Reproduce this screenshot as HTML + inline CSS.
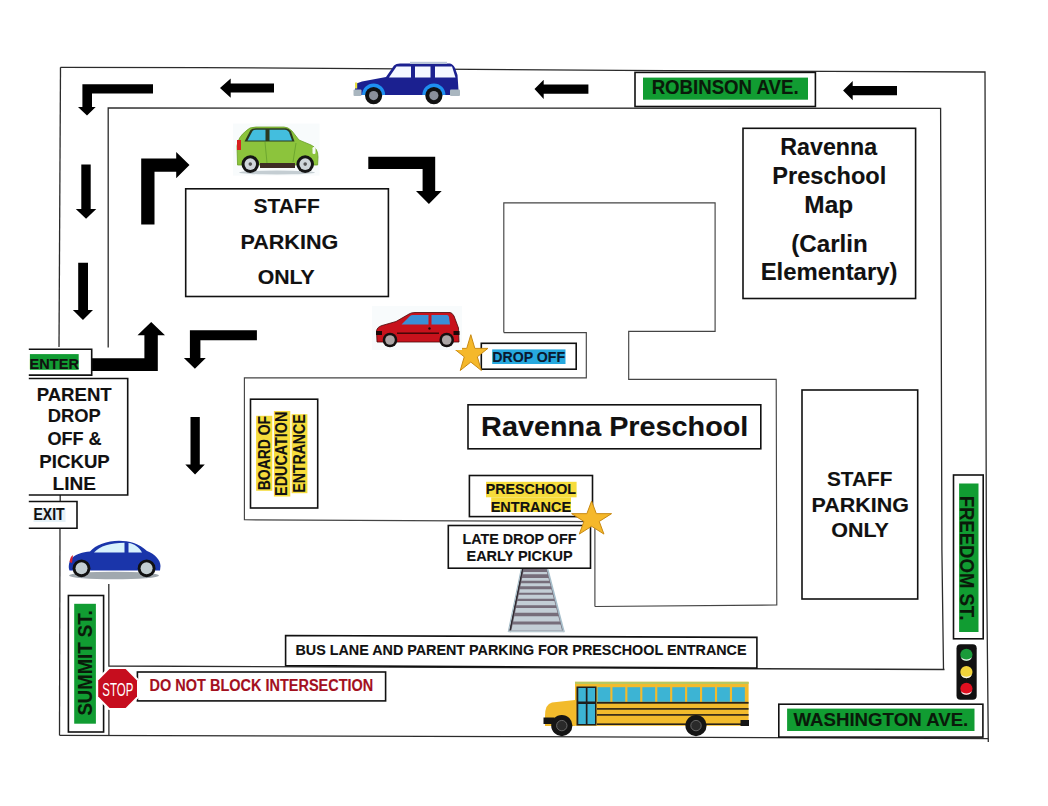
<!DOCTYPE html>
<html><head><meta charset="utf-8"><title>Ravenna Preschool Map</title>
<style>
html,body{margin:0;padding:0;background:#fff;width:1048px;height:806px;overflow:hidden}
svg{display:block}
text{font-family:"Liberation Sans",sans-serif;font-weight:700}
</style></head><body>
<svg width="1048" height="806" viewBox="0 0 1048 806">
<rect width="1048" height="806" fill="#fff"/>
<polyline points="60.5,67.3 200,67.6 620,70.4 830,71.4 985,72 986.4,550 988.3,742" fill="none" stroke="#2b2b2b" stroke-width="1.3"/>
<polyline points="59.5,735.3 535,736.6 988.3,738.6" fill="none" stroke="#2b2b2b" stroke-width="1.3"/>
<polyline points="60.5,67.3 59,347" fill="none" stroke="#2b2b2b" stroke-width="1.3"/>
<polyline points="60.2,495 60.2,501.5" fill="none" stroke="#2b2b2b" stroke-width="1.3"/>
<polyline points="60,528.3 59.5,735.3" fill="none" stroke="#2b2b2b" stroke-width="1.3"/>
<polyline points="108.2,347.6 108.2,108 940.6,108.3 941.9,550 943.5,669.5" fill="none" stroke="#2b2b2b" stroke-width="1.3"/>
<polyline points="108.8,584 108.9,666 944.5,669.5" fill="none" stroke="#2b2b2b" stroke-width="1.3"/>
<polyline points="108.9,708 108.9,735.5" fill="none" stroke="#2b2b2b" stroke-width="1.3"/>
<polygon points="153.00,84.30 153.00,93.50 92.00,93.50 92.00,107.00 95.70,107.00 87.00,115.60 78.00,107.00 82.40,107.00 82.40,84.30" fill="#000" stroke="none" stroke-width="0"/>
<polygon points="220.00,88.10 230.70,78.50 230.70,83.60 274.00,83.60 274.00,92.40 230.70,92.40 230.70,97.70" fill="#000" stroke="none" stroke-width="0"/>
<polygon points="534.50,88.90 543.70,79.80 543.70,84.50 588.40,84.50 588.40,93.70 543.70,93.70 543.70,98.90" fill="#000" stroke="none" stroke-width="0"/>
<polygon points="843.10,90.60 852.70,81.10 852.70,86.00 897.00,86.00 897.00,95.20 852.70,95.20 852.70,100.20" fill="#000" stroke="none" stroke-width="0"/>
<polygon points="81.30,164.50 90.70,164.50 90.70,209.00 96.30,209.00 86.05,218.80 75.80,209.00 81.30,209.00" fill="#000" stroke="none" stroke-width="0"/>
<polygon points="78.20,262.70 88.00,262.70 88.00,310.00 93.00,310.00 82.95,320.00 72.90,310.00 78.20,310.00" fill="#000" stroke="none" stroke-width="0"/>
<polygon points="141.20,224.60 141.20,158.60 176.20,158.60 176.20,152.10 189.50,165.00 176.20,178.30 176.20,171.80 154.50,171.80 154.50,224.60" fill="#000" stroke="none" stroke-width="0"/>
<polygon points="368.30,156.70 435.20,156.70 435.20,191.00 441.70,191.00 428.90,204.10 416.00,191.00 422.60,191.00 422.60,168.90 368.30,168.90" fill="#000" stroke="none" stroke-width="0"/>
<polygon points="256.90,330.30 256.90,340.30 200.40,340.30 200.40,358.10 205.80,358.10 194.90,368.70 183.90,358.10 189.90,358.10 189.90,330.30" fill="#000" stroke="none" stroke-width="0"/>
<polygon points="190.50,417.00 199.80,417.00 199.80,464.60 204.80,464.60 195.05,474.60 185.30,464.60 190.50,464.60" fill="#000" stroke="none" stroke-width="0"/>
<polygon points="91.70,358.20 144.40,358.20 144.40,335.30 137.50,335.30 151.20,322.00 165.00,335.30 157.80,335.30 157.80,371.00 91.70,371.00" fill="#000" stroke="none" stroke-width="0"/>
<polyline points="503.8,332.6 503.8,202.8 715.1,202.8 715.1,331.4 628.7,331.4 628.7,379.3 776.2,379.3 776.8,605 594.9,606.5" fill="none" stroke="#444" stroke-width="1.15"/>
<polyline points="594.9,606.5 594.9,521.6 244.4,519.8 244.4,377.8 586.3,377.8 586.3,332.6 503.8,332.6" fill="none" stroke="#444" stroke-width="1.15"/>
<rect x="185.7" y="188.8" width="202.70" height="107.70" fill="#fff" stroke="#111" stroke-width="1.6"/>
<rect x="743" y="128.3" width="172.60" height="170.20" fill="#fff" stroke="#111" stroke-width="1.6"/>
<rect x="481.3" y="343.3" width="94.90" height="25.90" fill="#fff" stroke="#111" stroke-width="1.6"/>
<rect x="492.2" y="349.4" width="73.30" height="14.60" fill="#27a9df"/>
<rect x="468" y="404.8" width="292.80" height="44.00" fill="#fff" stroke="#111" stroke-width="1.6"/>
<rect x="250.5" y="399.2" width="67.20" height="108.80" fill="#fff" stroke="#111" stroke-width="1.6"/>
<rect x="256.1" y="415.8" width="16.20" height="75.00" fill="#f6dc3c"/>
<rect x="273.9" y="411" width="16.40" height="85.50" fill="#f6dc3c"/>
<rect x="291.6" y="414.2" width="15.80" height="79.00" fill="#f6dc3c"/>
<rect x="469.4" y="475.5" width="123.10" height="41.10" fill="#fff" stroke="#111" stroke-width="1.6"/>
<rect x="486" y="481.8" width="90.60" height="15.50" fill="#f6dc3c"/>
<rect x="491.2" y="497.3" width="79.80" height="14.70" fill="#f6dc3c"/>
<rect x="448.3" y="525.5" width="142.20" height="42.70" fill="#fff" stroke="#111" stroke-width="1.6"/>
<rect x="802" y="390" width="115.70" height="209.00" fill="#fff" stroke="#111" stroke-width="1.6"/>
<polyline points="28.8,349.3 91.7,349.3 91.7,375.1 28.8,375.1" fill="none" stroke="#111" stroke-width="1.6"/>
<polyline points="28.8,378.5 127.7,378.5 127.7,495 28.8,495" fill="none" stroke="#111" stroke-width="1.6"/>
<rect x="29.9" y="354.1" width="48.80" height="15.70" fill="#119c32"/>
<polyline points="28.8,501.5 77,501.5 77,528.3 28.8,528.3" fill="none" stroke="#111" stroke-width="1.6"/>
<rect x="33.5" y="508" width="32.00" height="14.00" fill="#e6f2f8"/>
<rect x="635" y="72.4" width="180.40" height="34.10" fill="#fff" stroke="#111" stroke-width="1.6"/>
<rect x="643" y="77.6" width="165.00" height="22.10" fill="#119c32"/>
<rect x="953.5" y="475" width="29.70" height="163.80" fill="#fff" stroke="#111" stroke-width="1.6"/>
<rect x="959.1" y="483.5" width="19.40" height="148.50" fill="#119c32"/>
<rect x="956.5" y="644.3" width="20.2" height="55.5" rx="4" fill="#111"/>
<circle cx="966.4" cy="654.8" r="6.1" fill="#1a9a3a"/>
<circle cx="966.4" cy="672.1" r="6.1" fill="#f2d43a"/>
<circle cx="966.4" cy="688.8" r="6.1" fill="#e01020"/>
<path d="M960.8,657.0 A6,6 0 0 0 972,657.0 A6.5,5 0 0 1 960.8,657.0 Z" fill="#f4f4f4"/>
<path d="M960.8,674.3000000000001 A6,6 0 0 0 972,674.3000000000001 A6.5,5 0 0 1 960.8,674.3000000000001 Z" fill="#f4f4f4"/>
<path d="M960.8,691.0 A6,6 0 0 0 972,691.0 A6.5,5 0 0 1 960.8,691.0 Z" fill="#f4f4f4"/>
<rect x="778.8" y="704.2" width="204.10" height="32.90" fill="#fff" stroke="#111" stroke-width="1.6"/>
<rect x="787.1" y="708.6" width="187.40" height="22.40" fill="#119c32"/>
<rect x="68.4" y="595.5" width="35.20" height="136.50" fill="#fff" stroke="#111" stroke-width="1.6"/>
<rect x="74.2" y="603.8" width="21.70" height="119.90" fill="#119c32"/>
<polygon points="285.6,635.5 756.9,637.4 756.9,668 285.6,665.6" fill="#fff" stroke="#111" stroke-width="1.6"/>
<rect x="137.4" y="672" width="248.20" height="28.90" fill="#fff" stroke="#111" stroke-width="1.6"/>
<polygon points="139.03,697.38 126.48,709.93 108.72,709.93 96.17,697.38 96.17,679.62 108.72,667.07 126.48,667.07 139.03,679.62" fill="#fff" stroke="none" stroke-width="0"/>
<polygon points="137.00,696.54 125.64,707.90 109.56,707.90 98.20,696.54 98.20,680.46 109.56,669.10 125.64,669.10 137.00,680.46" fill="#c60d1e" stroke="none" stroke-width="0"/>
<polygon points="470.80,334.70 474.84,348.38 487.92,348.38 477.34,356.84 481.38,370.52 470.80,362.06 460.22,370.52 464.26,356.84 453.68,348.38 466.76,348.38" fill="#f5b82a" stroke="#c98a12" stroke-width="1"/>
<polygon points="591.60,501.03 596.32,513.65 611.57,513.65 599.23,521.46 603.94,534.08 591.60,526.28 579.26,534.08 583.97,521.46 571.63,513.65 586.88,513.65" fill="#f5b82a" stroke="#c98a12" stroke-width="1"/>
<text x="253.52" y="213.44" font-size="21.10" textLength="66.23" lengthAdjust="spacingAndGlyphs" fill="#111" stroke="#111" stroke-width="0.12">STAFF</text>
<text x="240.42" y="248.58" font-size="21.10" textLength="97.83" lengthAdjust="spacingAndGlyphs" fill="#111" stroke="#111" stroke-width="0.12">PARKING</text>
<text x="257.73" y="284.26" font-size="21.10" textLength="57.08" lengthAdjust="spacingAndGlyphs" fill="#111" stroke="#111" stroke-width="0.12">ONLY</text>
<text x="780.31" y="155.46" font-size="24.59" textLength="96.90" lengthAdjust="spacingAndGlyphs" fill="#111" stroke="#111" stroke-width="0.12">Ravenna</text>
<text x="772.30" y="184.10" font-size="24.59" textLength="113.92" lengthAdjust="spacingAndGlyphs" fill="#111" stroke="#111" stroke-width="0.12">Preschool</text>
<text x="804.36" y="213.00" font-size="24.59" textLength="48.77" lengthAdjust="spacingAndGlyphs" fill="#111" stroke="#111" stroke-width="0.12">Map</text>
<text x="791.25" y="252.10" font-size="24.59" textLength="76.46" lengthAdjust="spacingAndGlyphs" fill="#111" stroke="#111" stroke-width="0.12">(Carlin</text>
<text x="760.68" y="280.40" font-size="24.59" textLength="136.75" lengthAdjust="spacingAndGlyphs" fill="#111" stroke="#111" stroke-width="0.12">Elementary)</text>
<text x="492.19" y="361.73" font-size="14.00" textLength="72.89" lengthAdjust="spacingAndGlyphs" fill="#0a1a30" stroke="#0a1a30" stroke-width="0.12">DROP OFF</text>
<text x="481.11" y="435.86" font-size="27.82" textLength="267.27" lengthAdjust="spacingAndGlyphs" fill="#111" stroke="#111" stroke-width="0.12">Ravenna Preschool</text>
<text x="-490.25" y="269.87" font-size="15.90" textLength="74.28" lengthAdjust="spacingAndGlyphs" fill="#111" stroke="#111" stroke-width="0.12" transform="rotate(-90)">BOARD OF</text>
<text x="-495.92" y="287.29" font-size="15.90" textLength="84.23" lengthAdjust="spacingAndGlyphs" fill="#111" stroke="#111" stroke-width="0.12" transform="rotate(-90)">EDUCATION</text>
<text x="-492.73" y="305.33" font-size="15.90" textLength="78.37" lengthAdjust="spacingAndGlyphs" fill="#111" stroke="#111" stroke-width="0.12" transform="rotate(-90)">ENTRANCE</text>
<text x="485.79" y="494.44" font-size="14.95" textLength="90.20" lengthAdjust="spacingAndGlyphs" fill="#111" stroke="#111" stroke-width="0.12">PRESCHOOL</text>
<text x="490.73" y="511.80" font-size="14.95" textLength="80.43" lengthAdjust="spacingAndGlyphs" fill="#111" stroke="#111" stroke-width="0.12">ENTRANCE</text>
<text x="462.49" y="544.18" font-size="13.99" textLength="113.95" lengthAdjust="spacingAndGlyphs" fill="#111" stroke="#111" stroke-width="0.12">LATE DROP OFF</text>
<text x="466.49" y="561.34" font-size="13.99" textLength="106.07" lengthAdjust="spacingAndGlyphs" fill="#111" stroke="#111" stroke-width="0.12">EARLY PICKUP</text>
<text x="826.99" y="485.70" font-size="21.09" textLength="65.47" lengthAdjust="spacingAndGlyphs" fill="#111" stroke="#111" stroke-width="0.12">STAFF</text>
<text x="811.41" y="511.54" font-size="21.09" textLength="97.45" lengthAdjust="spacingAndGlyphs" fill="#111" stroke="#111" stroke-width="0.12">PARKING</text>
<text x="831.30" y="536.86" font-size="21.09" textLength="57.65" lengthAdjust="spacingAndGlyphs" fill="#111" stroke="#111" stroke-width="0.12">ONLY</text>
<text x="29.62" y="368.54" font-size="14.81" textLength="49.27" lengthAdjust="spacingAndGlyphs" fill="#111" stroke="#111" stroke-width="0.12">ENTER</text>
<text x="36.67" y="400.70" font-size="17.81" textLength="75.06" lengthAdjust="spacingAndGlyphs" fill="#111" stroke="#111" stroke-width="0.12">PARENT</text>
<text x="47.68" y="422.34" font-size="17.81" textLength="52.98" lengthAdjust="spacingAndGlyphs" fill="#111" stroke="#111" stroke-width="0.12">DROP</text>
<text x="47.41" y="444.60" font-size="17.81" textLength="54.28" lengthAdjust="spacingAndGlyphs" fill="#111" stroke="#111" stroke-width="0.12">OFF &amp;</text>
<text x="39.38" y="467.54" font-size="17.81" textLength="70.43" lengthAdjust="spacingAndGlyphs" fill="#111" stroke="#111" stroke-width="0.12">PICKUP</text>
<text x="52.60" y="489.54" font-size="17.81" textLength="43.49" lengthAdjust="spacingAndGlyphs" fill="#111" stroke="#111" stroke-width="0.12">LINE</text>
<text x="33.44" y="520.18" font-size="15.90" textLength="31.17" lengthAdjust="spacingAndGlyphs" fill="#111" stroke="#111" stroke-width="0.12">EXIT</text>
<text x="651.65" y="94.43" font-size="19.39" textLength="147.02" lengthAdjust="spacingAndGlyphs" fill="#0a1a0a" stroke="#0a1a0a" stroke-width="0.12">ROBINSON AVE.</text>
<text x="495.64" y="-960.43" font-size="20.10" textLength="124.67" lengthAdjust="spacingAndGlyphs" fill="#0a1a0a" stroke="#0a1a0a" stroke-width="0.12" transform="rotate(90)">FREEDOM ST.</text>
<text x="793.47" y="725.79" font-size="18.24" textLength="174.85" lengthAdjust="spacingAndGlyphs" fill="#0a1a0a" stroke="#0a1a0a" stroke-width="0.12">WASHINGTON AVE.</text>
<text x="-715.60" y="91.79" font-size="20.66" textLength="105.17" lengthAdjust="spacingAndGlyphs" fill="#0a1a0a" stroke="#0a1a0a" stroke-width="0.12" transform="rotate(-90)">SUMMIT ST.</text>
<text x="295.46" y="655.46" font-size="15.14" textLength="451.09" lengthAdjust="spacingAndGlyphs" fill="#111" stroke="#111" stroke-width="0.12">BUS LANE AND PARENT PARKING FOR PRESCHOOL ENTRANCE</text>
<text x="149.58" y="691.14" font-size="15.60" textLength="223.73" lengthAdjust="spacingAndGlyphs" fill="#a3101e" stroke="#a3101e" stroke-width="0.12">DO NOT BLOCK INTERSECTION</text>
<text x="102.30" y="695.50" font-size="19.00" textLength="31.00" lengthAdjust="spacingAndGlyphs" fill="#fff" style="font-weight:400">STOP</text>
<g>
<path d="M355,84 L362,81.5 L386,77 L394,65.5 Q396,63.5 400,63.5 L450,63.5 Q453,64 455,68 L457.5,75 L458.5,90 L452,95 L358,95 L355,91 Z" fill="#1b2090"/>
<rect x="410" y="61.8" width="37" height="2.2" fill="#b8c4d8"/>
<path d="M389,77.5 L396.5,66.5 L411,66.5 L411,77.5 Z" fill="#f4f7ff"/>
<rect x="415" y="66.5" width="15.5" height="11" fill="#f4f7ff"/>
<path d="M435,66.5 L452,66.5 L455.5,77.5 L435,77.5 Z" fill="#f4f7ff"/>
<path d="M362.1,95 A11.5,11.5 0 0 1 385.1,95 Z" fill="#1e8ff0"/>
<path d="M422.4,95 A11.5,11.5 0 0 1 445.4,95 Z" fill="#1e8ff0"/>
<circle cx="373.6" cy="95.6" r="8.6" fill="#111"/><circle cx="373.6" cy="95.6" r="4.6" fill="#8a8f9a"/>
<circle cx="433.9" cy="95.6" r="8.6" fill="#111"/><circle cx="433.9" cy="95.6" r="4.6" fill="#8a8f9a"/>
<rect x="353.5" y="89.5" width="8" height="6.5" rx="1" fill="#a9b6bf"/>
<rect x="450" y="89.5" width="10" height="6.5" rx="1" fill="#a9b6bf"/>
<rect x="355" y="82.5" width="2.2" height="6" fill="#e8e040"/>
</g>
<rect x="233" y="123.6" width="86.5" height="52" fill="#f8fbfc"/>
<path d="M237.5,164 L237,146 Q238,137 246,131 Q249,127 256,127 L284,127 Q288,127 292,131 L299,140 L311,145 Q318,148 318,157 L317.6,165 L237.5,165 Z" fill="#8cc43c" stroke="#6aa02a" stroke-width="0.8"/>
<path d="M244.5,141.5 L250.5,130 Q252,128.3 256,128.3 L286,128.3 Q289,128.5 291,131.5 L294.5,141.5 Z" fill="#2b3a20"/>
<path d="M247.5,140.5 L252.5,131 Q253.5,129.8 256,129.8 L265.5,129.8 L265.5,140.5 Z" fill="#43bede"/>
<path d="M269.5,129.8 L285,129.8 Q287,129.8 289,132 L292,140.5 L269.5,140.5 Z" fill="#43bede"/>
<rect x="312.5" y="147" width="3" height="7" rx="1.2" fill="#f4f8f4"/>
<path d="M265,142 L267,163 M296,143 L293,162" stroke="#5f9a2a" stroke-width="0.7" fill="none"/>
<rect x="237" y="140" width="4" height="10" fill="#d82020"/>
<rect x="260" y="163" width="35" height="5" fill="#3e2c24"/>
<ellipse cx="277" cy="172.5" rx="38" ry="2" fill="#c4cdd2"/>
<circle cx="250.3" cy="164.1" r="8.8" fill="#151515"/><circle cx="250.3" cy="164.1" r="5.8" fill="#cfd6da"/><circle cx="250.3" cy="164.1" r="1.8" fill="#555"/>
<circle cx="305.2" cy="164.1" r="8.8" fill="#151515"/><circle cx="305.2" cy="164.1" r="5.8" fill="#cfd6da"/><circle cx="305.2" cy="164.1" r="1.8" fill="#555"/>
<rect x="372" y="306" width="90" height="44" fill="#f8fbfc"/>
<path d="M377,342 L376.5,331 Q377,327 382,325.5 L396,321.5 L409,314 Q411,312.5 415,312.5 L450,312.5 Q452,312.5 454,316 L458.5,328 L459,342 Z" fill="#c8121c" stroke="#4a0808" stroke-width="0.8"/>
<path d="M401.5,324.5 L410,316 Q411,315 413,315 L428.5,315 L428.5,324.5 Z" fill="#3a8fd6"/>
<path d="M431.5,315 L447,315 Q448.5,315 449,317 L450,324.5 L431.5,324.5 Z" fill="#3a8fd6"/>
<rect x="397" y="332.5" width="42" height="1.4" fill="#3a0606"/>
<rect x="376" y="331" width="6" height="4" fill="#1a0808"/><rect x="453.5" y="331" width="6" height="4" fill="#1a0808"/>
<circle cx="429.5" cy="328.5" r="1.2" fill="#1a0808"/>
<circle cx="390" cy="340" r="7.3" fill="#141010"/><circle cx="390" cy="340" r="4.8" fill="#aca6a6"/>
<circle cx="446.7" cy="340" r="7.3" fill="#141010"/><circle cx="446.7" cy="340" r="4.8" fill="#aca6a6"/>
<ellipse cx="114" cy="575.5" rx="45" ry="3.8" fill="#a0a8ae"/>
<path d="M69,569 C68,559 74,553 90,551.5 C100,540 130,535 147,551 C155,554 160.5,560 160.5,566 L160,570.5 L69.5,570.5 Z" fill="#1a35aa"/>
<path d="M94,552.5 C100,546 110,543 124.5,542.8 L124.5,552.5 Z" fill="#d8f2fc"/>
<path d="M128.5,543 C134,543.5 139,547 142,552.5 L128.5,552.5 Z" fill="#d8f2fc"/>
<path d="M69.5,562 Q70,557 73,555 L72,563 Z" fill="#d82030"/>
<circle cx="81.5" cy="568.3" r="8.9" fill="#111"/><circle cx="81.5" cy="568.3" r="6" fill="#c3ced2"/>
<circle cx="146.6" cy="568.3" r="8.9" fill="#111"/><circle cx="146.6" cy="568.3" r="6" fill="#c3ced2"/>
<path d="M545,716 Q545,704 552,702.5 L575,700 L575,726 L545,726 Z" fill="#f2bb2c"/>
<rect x="575" y="681.8" width="173.6" height="44" fill="#f2bb2c"/>
<rect x="575" y="681.8" width="173.6" height="2.2" fill="#b8c860"/>
<rect x="597.50" y="687.2" width="12.8" height="14.6" fill="#3cb4d4"/>
<rect x="612.45" y="687.2" width="12.8" height="14.6" fill="#3cb4d4"/>
<rect x="627.40" y="687.2" width="12.8" height="14.6" fill="#3cb4d4"/>
<rect x="642.35" y="687.2" width="12.8" height="14.6" fill="#3cb4d4"/>
<rect x="657.30" y="687.2" width="12.8" height="14.6" fill="#3cb4d4"/>
<rect x="672.25" y="687.2" width="12.8" height="14.6" fill="#3cb4d4"/>
<rect x="687.20" y="687.2" width="12.8" height="14.6" fill="#3cb4d4"/>
<rect x="702.15" y="687.2" width="12.8" height="14.6" fill="#3cb4d4"/>
<rect x="717.10" y="687.2" width="12.8" height="14.6" fill="#3cb4d4"/>
<rect x="732.05" y="687.2" width="12.8" height="14.6" fill="#3cb4d4"/>
<rect x="576.5" y="686.5" width="20" height="39" fill="#1e1e1e"/>
<rect x="578.3" y="688" width="7.5" height="13.5" fill="#3cb4d4"/>
<rect x="587.5" y="688" width="7.5" height="13.5" fill="#3cb4d4"/>
<rect x="578.3" y="704" width="7.5" height="20" fill="#3cb4d4"/>
<rect x="587.5" y="704" width="7.5" height="20" fill="#3cb4d4"/>
<rect x="597" y="701.9" width="151.6" height="1.8" fill="#2a2218"/>
<rect x="597" y="708.1" width="151.6" height="1.6" fill="#2a2218"/>
<rect x="597" y="714.1" width="151.6" height="1.6" fill="#2a2218"/>
<rect x="597" y="723.4000000000001" width="151.6" height="1.6" fill="#2a2218"/>
<rect x="543.5" y="717.5" width="11" height="6.5" fill="#151515"/>
<rect x="740.5" y="720" width="8.5" height="6" fill="#151515"/>
<circle cx="561.8" cy="725.6" r="10.6" fill="#151515"/><circle cx="561.8" cy="725.6" r="5.2" fill="#2a2a2a" stroke="#777" stroke-width="0.8"/>
<circle cx="696" cy="725.6" r="10.6" fill="#151515"/><circle cx="696" cy="725.6" r="5.2" fill="#2a2a2a" stroke="#777" stroke-width="0.8"/>
<polygon points="521.8,569 547.6,569 564,632 508.9,632" fill="#766d7a"/>
<polygon points="523.39,571.98 546.88,571.98 547.46,574.22 522.93,574.22" fill="#c3ced6"/>
<polygon points="522.16,578.00 548.44,578.00 549.17,580.80 521.58,580.80" fill="#c3ced6"/>
<polygon points="521.08,583.26 549.81,583.26 550.61,586.34 520.45,586.34" fill="#c3ced6"/>
<polygon points="519.85,589.25 551.37,589.25 552.28,592.75 519.14,592.75" fill="#c3ced6"/>
<polygon points="518.73,594.74 552.80,594.74 553.82,598.66 517.93,598.66" fill="#c3ced6"/>
<polygon points="517.44,601.03 554.44,601.03 555.57,605.37 516.55,605.37" fill="#c3ced6"/>
<polygon points="516.03,607.92 556.23,607.92 557.47,612.68 515.06,612.68" fill="#c3ced6"/>
<polygon points="514.35,616.14 558.37,616.14 559.76,621.46 513.26,621.46" fill="#c3ced6"/>
<polygon points="512.62,624.56 560.56,624.56 562.09,630.44 511.42,630.44" fill="#c3ced6"/>
<polyline points="522.6,569 509.8,632" stroke="#2e2a30" stroke-width="1.3" fill="none"/>
<polyline points="521.2,569 508.2,632" stroke="#9fb8c4" stroke-width="1" fill="none"/>
<polyline points="547.6,569 564,632" stroke="#a8c0cc" stroke-width="1.6" fill="none"/>
<rect x="508.5" y="630.5" width="56" height="1.8" fill="#b8c8d0"/>
</svg>
</body></html>
